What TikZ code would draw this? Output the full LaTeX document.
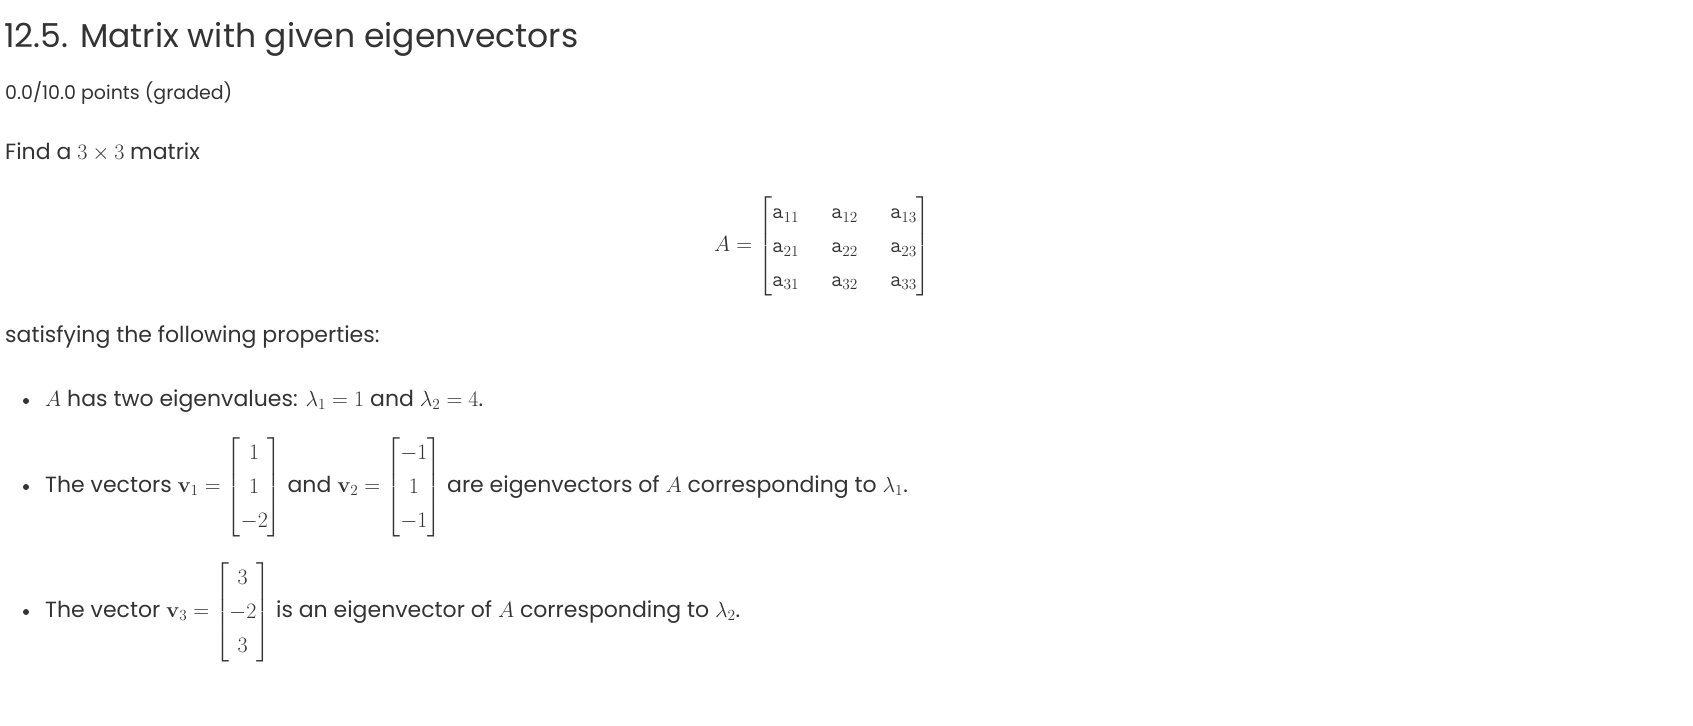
\RequirePackage{fix-cm}
\documentclass[tikz,border=0pt]{standalone}
\usepackage{amsmath}
\usepackage[no-math]{fontspec}
\setmainfont{Poppins}
\definecolor{txt}{HTML}{333333}
\begin{document}
\begin{tikzpicture}[x=1pt,y=-1pt,
  body/.style={anchor=west,inner sep=0pt,text=txt,font=\fontsize{22}{26}\selectfont},
  bul/.style={circle,fill=txt,inner sep=0pt,minimum size=6pt}]
\useasboundingbox (0,0) rectangle (1693,725);
\node[anchor=base west,inner sep=0pt,text=txt,font=\fontsize{33}{38}\selectfont] (title) at (4,48) {12.5. Matrix with given eigenvectors};
\node[body,font=\fontsize{19}{22}\selectfont] (pts) at (5,93) {0.0/10.0 points (graded)};
\node[body] (find) at (5,152) {Find a $3\times 3$ matrix};
\node[body] (mat) at (714,246) {$A=\renewcommand{\arraystretch}{1.3}\begin{bmatrix}\mathtt{a}_{11}&\quad\mathtt{a}_{12}&\quad\mathtt{a}_{13}\\ \mathtt{a}_{21}&\quad\mathtt{a}_{22}&\quad\mathtt{a}_{23}\\ \mathtt{a}_{31}&\quad\mathtt{a}_{32}&\quad\mathtt{a}_{33}\end{bmatrix}$};
\node[body] (sat) at (5,337) {satisfying the following properties:};
\node[bul] (b1) at (26,401) {};
\node[body] (l1) at (45,401) {$A$ has two eigenvalues: $\lambda_1=1$ and $\lambda_2=4$.};
\node[bul] (b2) at (26,487) {};
\node[body] (l2) at (45,487) {The vectors $\mathbf{v}_1=\renewcommand{\arraystretch}{1.3}\begin{bmatrix}1\\1\\-2\end{bmatrix}$ and $\mathbf{v}_2=\renewcommand{\arraystretch}{1.3}\begin{bmatrix}-1\\1\\-1\end{bmatrix}$ are eigenvectors of $A$ corresponding to $\lambda_1$.};
\node[bul] (b3) at (26,612) {};
\node[body] (l3) at (45,612) {The vector $\mathbf{v}_3=\renewcommand{\arraystretch}{1.3}\begin{bmatrix}3\\-2\\3\end{bmatrix}$ is an eigenvector of $A$ corresponding to $\lambda_2$.};
\end{tikzpicture}
\end{document}
